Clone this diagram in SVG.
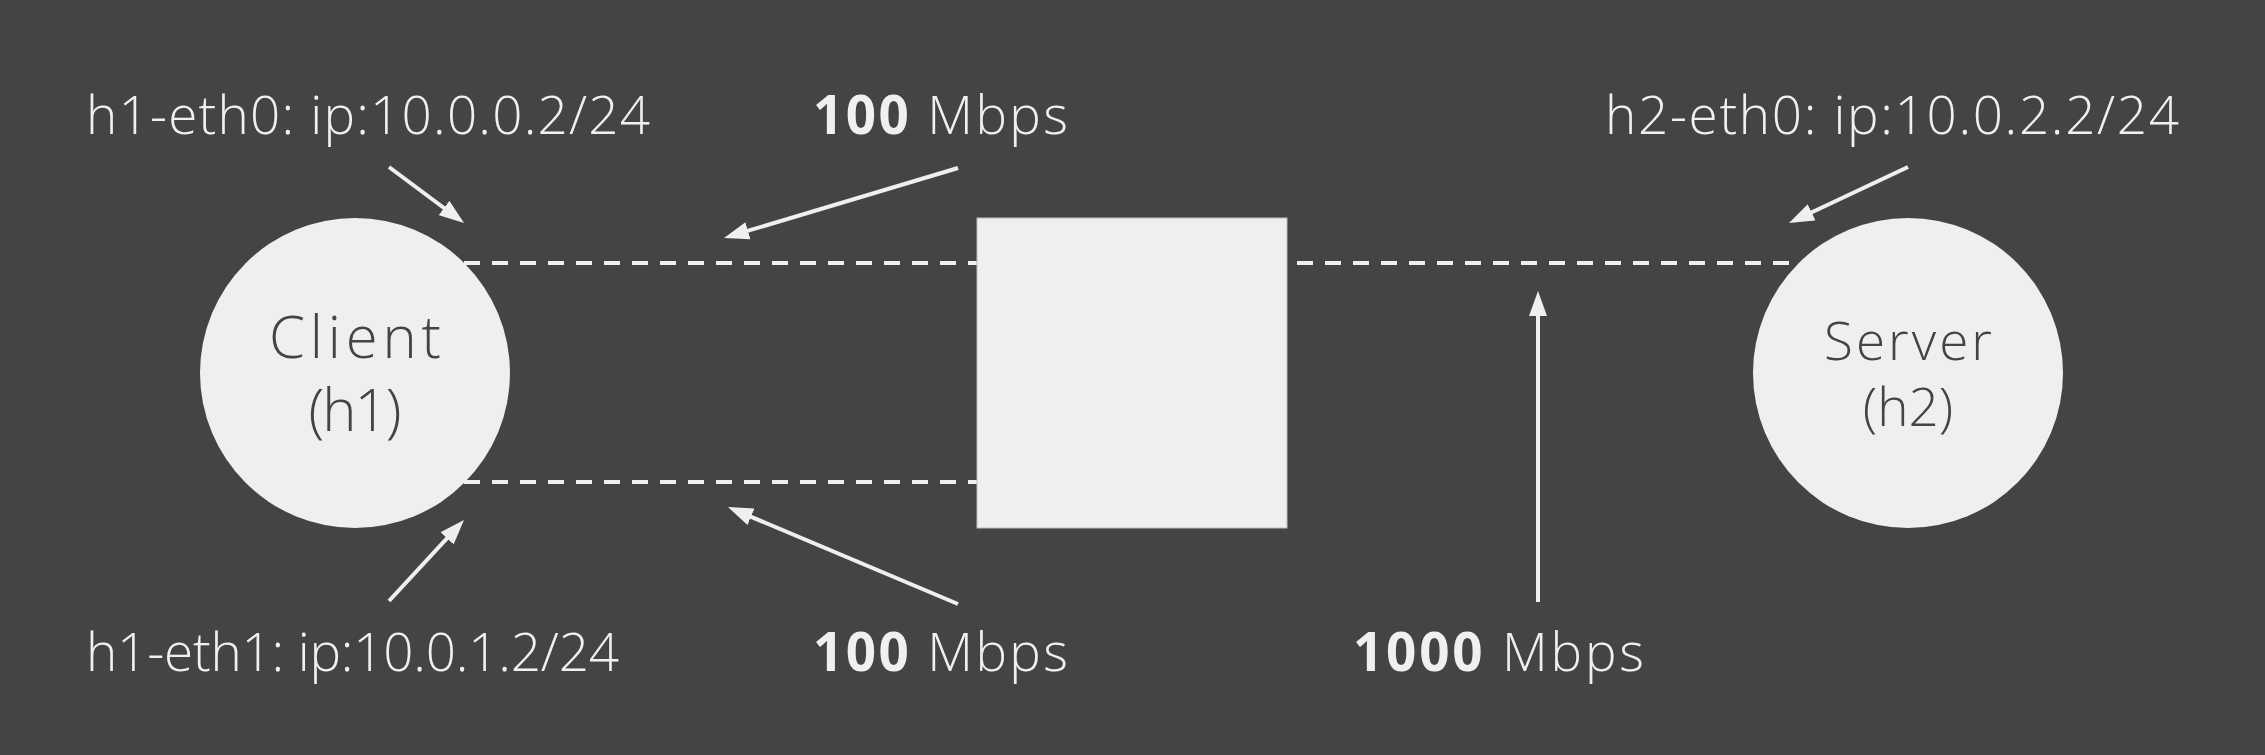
<svg xmlns="http://www.w3.org/2000/svg" width="2265" height="755" viewBox="0 0 2265 755">
  <defs>
    <marker id="arrow" markerUnits="userSpaceOnUse" viewBox="0 0 25 18" refX="5" refY="9" markerWidth="25" markerHeight="18" orient="auto">
      <path d="M0,0 L25,9 L0,18 z" fill="#efefef"/>
    </marker>
    <style>
      .label { font-family: "Open Sans", "Liberation Sans", sans-serif; font-weight: 300; font-size: 53px; fill: #f0f0f0; }
      .bold { font-weight: 700; }
      .node-text { font-family: "Open Sans", "Liberation Sans", sans-serif; font-weight: 300; fill: #444444; text-anchor: middle; }
      .link { stroke: #efefef; stroke-width: 4; stroke-dasharray: 16 12; fill: none; }
      .pointer { stroke: #efefef; stroke-width: 4; fill: none; marker-end: url(#arrow); }
      .host { fill: #efefef; }
    </style>
  </defs>
  <rect x="0" y="0" width="2265" height="755" fill="#444444"/>

  <g id="connectors">
    <line class="link" x1="464" y1="263" x2="977" y2="263"/>
    <line class="link" x1="464" y1="482" x2="977" y2="482"/>
    <line class="link" x1="1297" y1="263" x2="1799" y2="263"/>
    <line class="pointer" x1="389" y1="167" x2="448" y2="211"/>
    <line class="pointer" x1="958" y1="168" x2="743.2" y2="232.2"/>
    <line class="pointer" x1="1908" y1="167" x2="1807.1" y2="214.5"/>
    <line class="pointer" x1="389" y1="601" x2="450.4" y2="534.7"/>
    <line class="pointer" x1="958" y1="604" x2="746.4" y2="514.8"/>
    <line class="pointer" x1="1538" y1="602" x2="1538" y2="311"/>
  </g>

  <g id="client">
    <circle class="host" cx="355" cy="373" r="155"/>
    <text class="node-text" font-size="58"><tspan x="355" y="358" textLength="172">Client</tspan><tspan x="355" y="431" textLength="93">(h1)</tspan></text>
  </g>

  <g id="switch">
    <rect x="977" y="218" width="310" height="310" fill="#efefef" stroke="#bdbdbd" stroke-width="1"/>
  </g>

  <g id="server">
    <circle class="host" cx="1908" cy="373" r="155"/>
    <text class="node-text" font-size="53"><tspan x="1908" y="360" textLength="168">Server</tspan><tspan x="1908" y="426">(h2)</tspan></text>
  </g>

  <g id="labels">
    <text class="label" x="86" y="134" textLength="564">h1-eth0: ip:10.0.0.2/24</text>
    <text class="label" x="86" y="671" textLength="533">h1-eth1: ip:10.0.1.2/24</text>
    <text class="label" x="1605" y="134" textLength="574">h2-eth0: ip:10.0.2.2/24</text>
    <text class="label" x="813" y="134" textLength="255"><tspan class="bold">100</tspan> Mbps</text>
    <text class="label" x="813" y="671" textLength="255"><tspan class="bold">100</tspan> Mbps</text>
    <text class="label" x="1353" y="671" textLength="291"><tspan class="bold">1000</tspan> Mbps</text>
  </g>
</svg>
